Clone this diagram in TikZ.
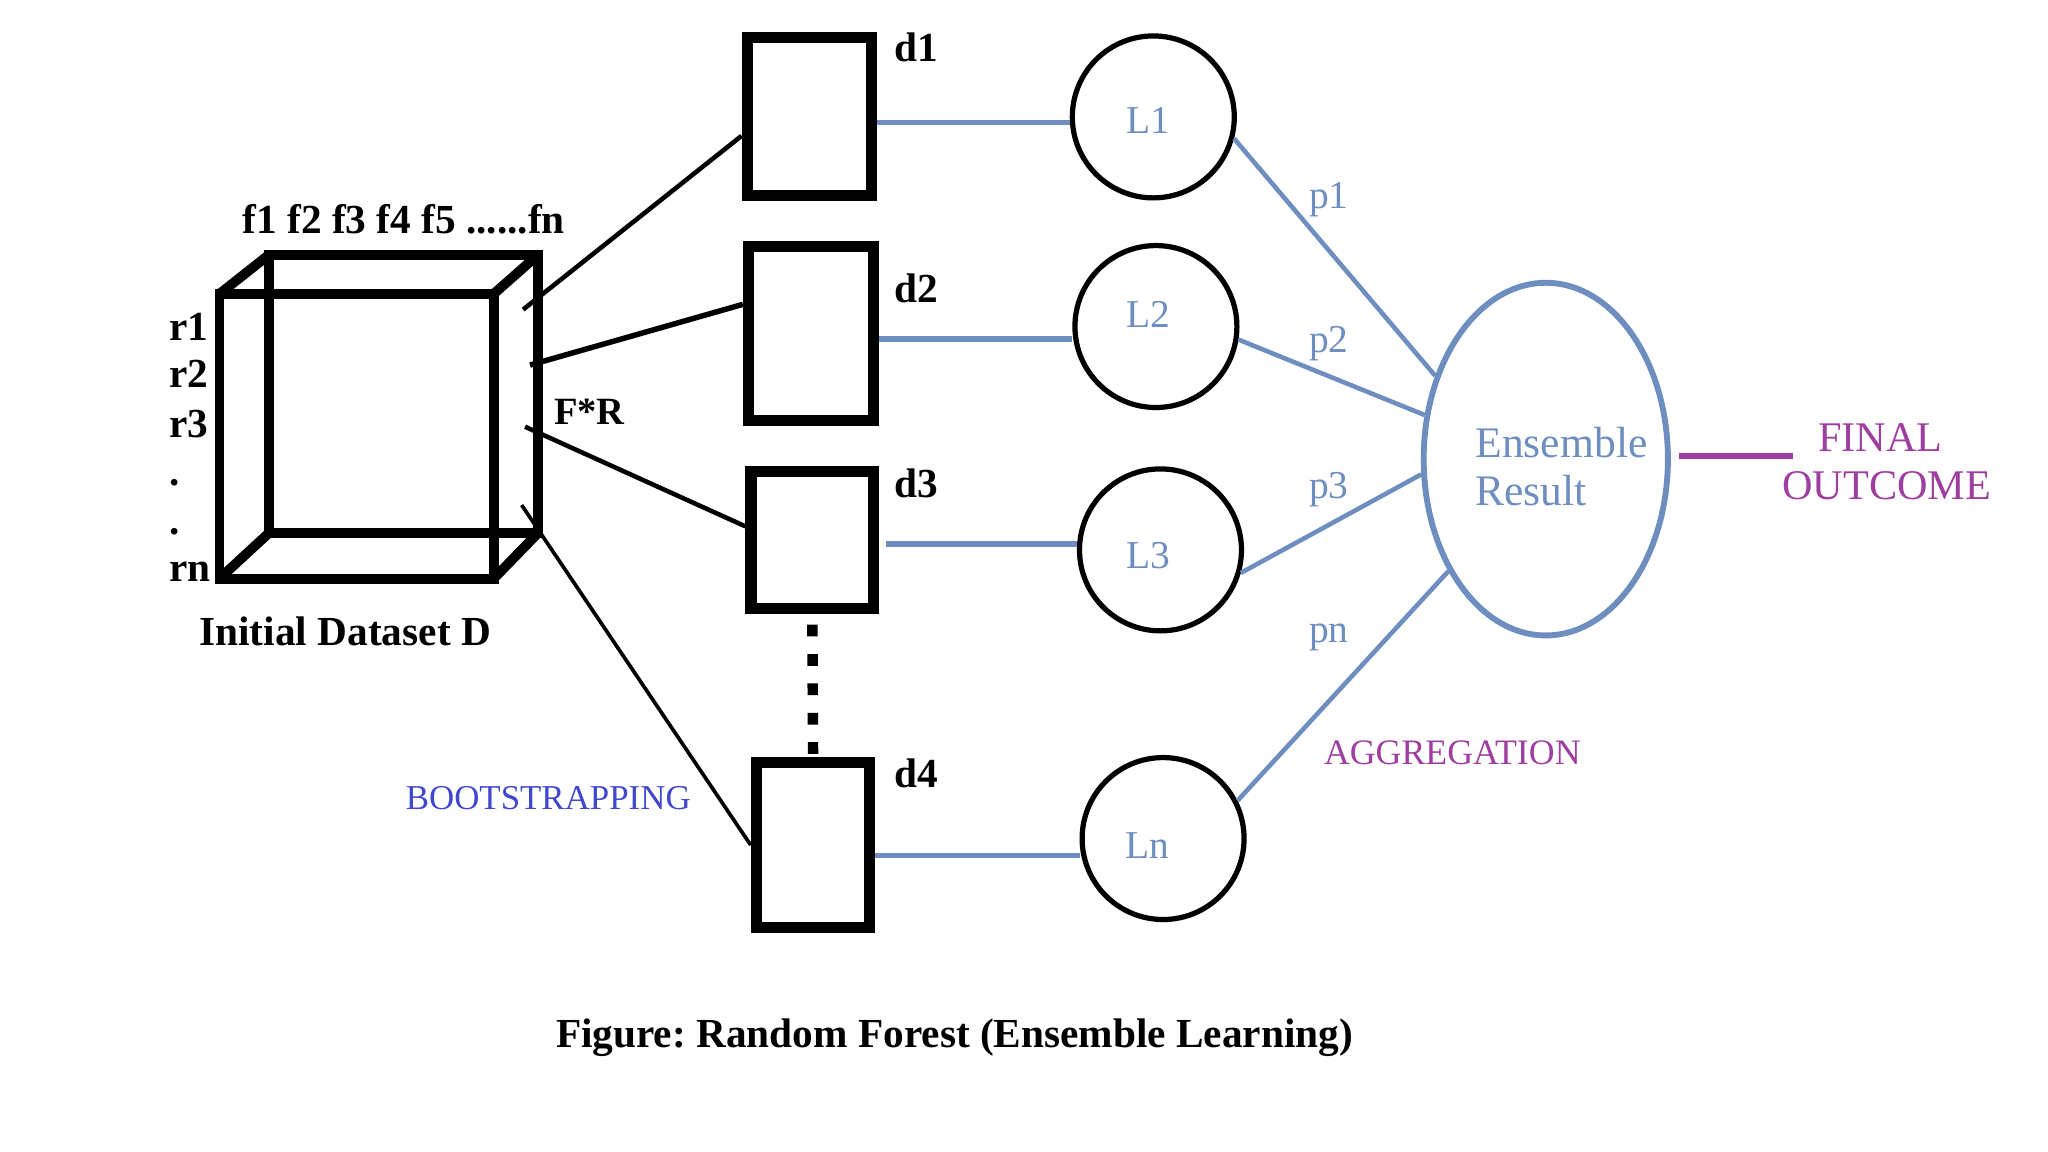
\documentclass[tikz,border=0pt]{standalone}
\usepackage{fontspec}
\setmainfont{Liberation Serif}
\frenchspacing
\usetikzlibrary{calc,shapes.geometric}
\definecolor{lblue}{RGB}{110,142,192}
\definecolor{bblue}{RGB}{64,72,205}
\definecolor{mag}{RGB}{158,62,160}
\tikzset{
  dbox/.style={draw,line width=0.85mm,inner sep=0pt},
  cface/.style={draw,line width=0.75mm,inner sep=0pt,outer sep=0pt},
  cubeedge/.style={line width=0.75mm},
  lcirc/.style={circle,draw,line width=0.4mm,inner sep=0pt,minimum size=12.4mm},
  kline/.style={draw,black,line width=0.35mm},
  bline/.style={draw=lblue,line width=0.4mm},
  pline/.style={draw=lblue,line width=0.35mm},
  mline/.style={draw=mag,line width=0.45mm},
  blk/.style={inner sep=0pt,anchor=base west,font=\fontsize{9}{10}\selectfont\bfseries},
  blu/.style={inner sep=0pt,anchor=base west,text=lblue,font=\fontsize{8.6}{10}\selectfont},
  magt/.style={inner sep=0pt,anchor=base west,text=mag,font=\fontsize{9.2}{10}\selectfont},
}
\begin{document}
\begin{tikzpicture}[x=0.1mm,y=-0.1mm]
\fill[white] (0,0) rectangle (1568,882);
\useasboundingbox (0,0) rectangle (1568,882);

% cube
\node[cface,minimum width=21mm,minimum height=21.8mm] (front) at (273,334) {};
\node[cface,minimum width=20.6mm,minimum height=21.3mm] (back) at (309,301.5) {};
\draw[cubeedge] (front.north west) -- (back.north west);
\draw[cubeedge] (front.north east) -- (back.north east);
\draw[cubeedge] (front.south west) -- (back.south west);
\draw[cubeedge] (front.south east) -- (back.south east);

% sample boxes
\node[dbox,minimum width=9.5mm,minimum height=12.1mm] (d1) at (619.5,89.5) {};
\node[dbox,minimum width=9.6mm,minimum height=13.3mm] (d2) at (621,255.5) {};
\node[dbox,minimum width=9.4mm,minimum height=10.5mm] (d3) at (622,413.5) {};
\node[dbox,minimum width=8.7mm,minimum height=12.6mm] (d4) at (622.5,647) {};
\draw[line width=0.8mm,dash pattern=on 0.9mm off 1.35mm] ($(d3.south)+(0,8)$) -- (d4.north);

% bootstrapping lines
\coordinate (c1) at (400.5,237);
\coordinate (c2) at (405.8,279.5);
\coordinate (c3) at (402,326.7);
\coordinate (c4) at (399.4,386.7);
\draw[kline,line width=0.35mm] (c1) -- ($(d1.west)+(0,14.5)$);
\draw[kline,line width=0.42mm] (c2) -- ($(d2.west)+(0,-22.5)$);
\draw[kline,line width=0.35mm] (c3) -- ($(d3.west)+(0,-10.5)$);
\draw[kline,line width=0.28mm] (c4) -- (d4.west);

% learners
\node[lcirc] (L1) at (883,89.5) {};
\node[lcirc] (L2) at (885,250) {};
\node[lcirc] (L3) at (888.5,421) {};
\node[lcirc] (Ln) at (890.5,642) {};

\coordinate (t1) at ($(d1.east)+(0,4.5)$);
\coordinate (t2) at ($(d2.east)+(0,4)$);
\coordinate (t3) at ($(d3.east)+(5,3)$);
\coordinate (t4) at ($(d4.east)+(0,8)$);
\draw[bline] (t1) -- (L1.west |- t1);
\draw[bline] (t2) -- (L2.west |- t2);
\draw[bline] (t3) -- (L3.west |- t3);
\draw[bline] (t4) -- (Ln.west |- t4);

% ensemble
\node[ellipse,draw=lblue,line width=0.45mm,inner sep=0pt,minimum width=18.7mm,minimum height=27mm] (E) at (1183.5,351.5) {};
\draw[pline] (L1.-15) -- (E.143);
\draw[pline] (L2.-9) -- (E.160);
\draw[pline] (L3.-16) -- (E.-173);
\draw[pline] (Ln.27) -- (E.229);

\coordinate (m1) at ($(E.east)+(6,-2.5)$);
\coordinate (m2) at (1373,349);
\draw[mline] (m1) -- (m2);

% black labels
\node[blk] (ft) at (185,179) {f1 f2 f3 f4 f5 ......fn};
\node[blk] (r1) at (129,261) {r1};
\node[blk] (r2) at (129,297) {r2};
\node[blk] (r3) at (129,335) {r3};
\node[blk] (rd1) at (129,372) {.};
\node[blk] (rd2) at (129,409) {.};
\node[blk] (rn) at (129,445) {rn};
\node[blk] (idd) at (152,494) {Initial Dataset D};
\node[blk,font=\fontsize{8.4}{10}\selectfont\bfseries] (fr) at (423.5,325) {F*R};
\node[blk] (td1) at (684,47) {d1};
\node[blk] (td2) at (684,231.5) {d2};
\node[blk] (td3) at (684,381) {d3};
\node[blk] (td4) at (684,603) {d4};

% blue labels
\node[blu] (tL1) at (861.6,102) {L1};
\node[blu] (tL2) at (861.5,250.5) {L2};
\node[blu] (tL3) at (861.5,435) {L3};
\node[blu] (tLn) at (861,657) {Ln};
\node[blu] (tp1) at (1001.5,159.6) {p1};
\node[blu] (tp2) at (1001.5,269.5) {p2};
\node[blu] (tp3) at (1001.5,382) {p3};
\node[blu] (tpn) at (1001.5,492) {pn};
\node[blu,font=\fontsize{9.5}{10}\selectfont] (tens) at (1129,350) {Ensemble};
\node[blu,font=\fontsize{9.5}{10}\selectfont] (tres) at (1129,386.8) {Result};

% magenta labels
\node[magt] (tfin) at (1391.5,345.7) {FINAL};
\node[magt] (tout) at (1364,382.4) {OUTCOME};
\node[magt,font=\fontsize{7.8}{8}\selectfont] (tagg) at (1013,585) {AGGREGATION};
\node[inner sep=0pt,anchor=base west,text=bblue,font=\fontsize{7.6}{8}\selectfont] (tboot) at (310,620) {BOOTSTRAPPING};

% caption
\node[blk,font=\fontsize{9}{10}\selectfont\bfseries] (cap) at (425,802) {Figure: Random Forest (Ensemble Learning)};
\end{tikzpicture}
\end{document}
